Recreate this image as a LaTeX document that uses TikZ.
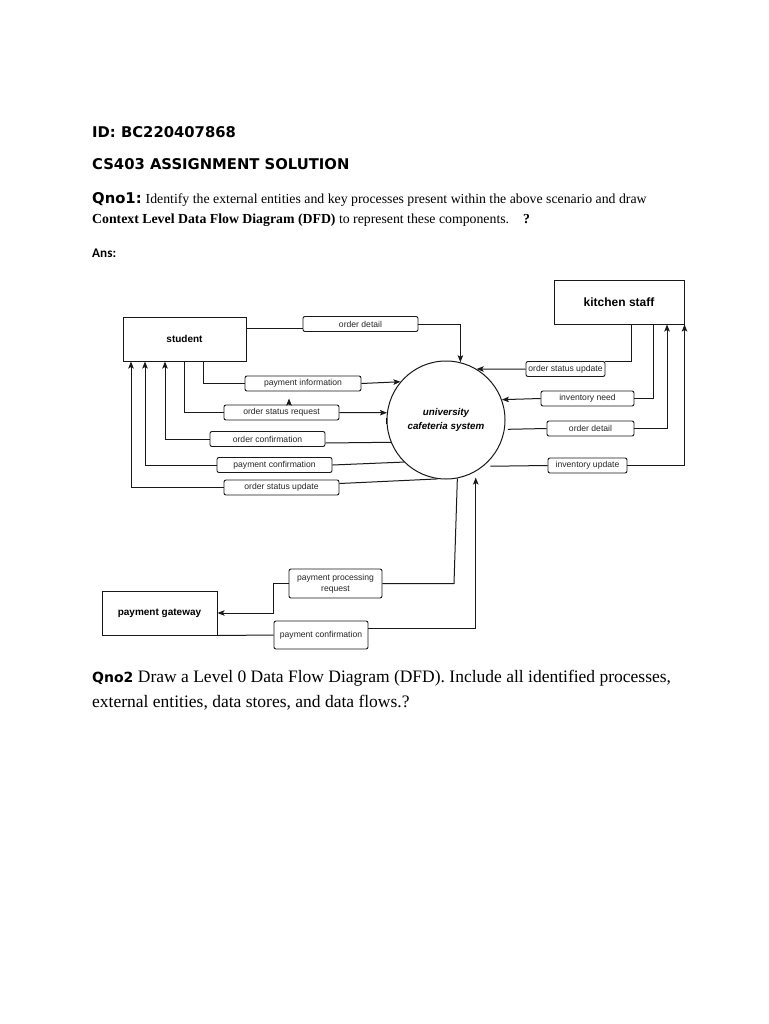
\documentclass[tikz,border=0pt]{standalone}
\usepackage{fontspec}
\setmainfont{Liberation Serif}
\setsansfont{Liberation Sans}
\newfontfamily\headfont{DejaVu Sans}
\newfontfamily\ansfont{Carlito}
\usetikzlibrary{arrows.meta}

\begin{document}
\begin{tikzpicture}[x=1pt,y=-1pt,
        wire/.style={draw=black!90,line width=1pt},
        flow/.style={wire,-{Stealth[length=7pt,width=5.5pt,inset=1.5pt]}},
        entity/.style={draw=black!90,line width=1pt,inner sep=0pt,minimum height=44pt,font=\sffamily\bfseries\fontsize{10}{12}\selectfont},
        process/.style={circle,draw=black!90,line width=1pt,minimum size=118pt,inner sep=0pt,align=center,font=\sffamily\bfseries\itshape\fontsize{9.8}{14}\selectfont},
        flowbox/.style={draw=black!90,line width=0.9pt,rounded corners=2pt,fill=white,inner sep=0pt,minimum width=115pt,minimum height=15pt,align=center,text=black!85,font=\sffamily\fontsize{8.6}{11}\selectfont},
        textline/.style={anchor=base west,inner sep=0pt}]
            \fill[white] (0,0) rectangle (768,1024);
            \useasboundingbox (0,0) rectangle (768,1024);

            \node[textline,font=\headfont\bfseries\fontsize{14.8}{18}\selectfont] (idline) at (92,138) {ID: BC220407868};
            \node[textline,font=\headfont\bfseries\fontsize{14.8}{18}\selectfont] (title) at (92,170) {CS403 ASSIGNMENT SOLUTION};
            \node[textline] (qone) at (92,204) {{\headfont\bfseries\fontsize{14.8}{18}\selectfont Qno1:}\hspace{4pt}{\fontsize{13.8}{16}\selectfont Identify the external entities and key processes present within the above scenario and draw}};
            \node[textline,font=\fontsize{13.8}{16}\selectfont] (qonemore) at (92,224) {\textbf{Context Level Data Flow Diagram (DFD)} to represent these components.\hspace{14pt}\textbf{?}};
            \node[textline,font=\ansfont\bfseries\fontsize{13.2}{15}\selectfont] (ans) at (92,257) {Ans:};

            \node[entity,minimum width=123pt] (student) at (184.5,339) {student};
            \node[entity,minimum width=130pt,font=\sffamily\bfseries\fontsize{12}{14}\selectfont] (kitchen) at (619,302) {kitchen staff};
            \node[entity,minimum width=115pt] (gateway) at (159.5,613) {payment gateway};
            \node[process] (sys) at (446,420) {university\\cafeteria system};

            \node[flowbox] (lblOrderDetail) at (360.5,324) {order detail};
            \node[flowbox,minimum width=116pt] (lblPayInfo) at (303,383.5) {payment information};
            \node[flowbox] (lblStatusReq) at (281.5,412.5) {order status request};
            \node[flowbox] (lblOrderConf) at (267.5,439) {order confirmation};
            \node[flowbox] (lblPayConf) at (274.5,465) {payment confirmation};
            \node[flowbox] (lblStatusUpd) at (281.5,487.5) {order status update};

            \node[flowbox,minimum width=79pt] (lblKStatusUpd) at (565.5,369) {order status update};
            \node[flowbox,minimum width=93pt] (lblInvNeed) at (587.5,398.5) {inventory need};
            \node[flowbox,minimum width=87pt] (lblKOrderDetail) at (590.5,428.5) {order detail};
            \node[flowbox,minimum width=79pt] (lblInvUpd) at (587.5,465.5) {inventory update};

            \node[flowbox,minimum width=93pt,minimum height=29pt] (lblProcReq) at (335.5,583.5) {payment processing\\request};
            \node[flowbox,minimum width=94pt,minimum height=28pt] (lblGwConf) at (321,635) {payment confirmation};
            \coordinate (procBend) at (454,583.5);

            \draw [wire] ([yshift=11pt]student.east) -- ([yshift=-4pt]lblOrderDetail.west);
            \draw [flow] (lblOrderDetail.east) -| (sys.76);
            \draw [wire] ([xshift=18.5pt]student.south) |- (lblPayInfo.west);
            \draw [flow] (lblPayInfo.east) -- (sys.140);
            \draw [wire] (student.south) |- (lblStatusReq.west);
            \draw [flow] (lblStatusReq.east) -- (sys.173);
            \draw [flow] ([xshift=7.5pt]lblStatusReq.north) -- ++(0,-6);
            \draw [line width=1.3pt] ([yshift=2pt]sys.west) -- ([yshift=-4pt]sys.west);
            \draw [wire] (sys.202) -- ([yshift=-4pt]lblOrderConf.east);
            \draw [flow] (lblOrderConf.west) -| ([xshift=-19.5pt]student.south);
            \draw [wire] (sys.225) -- (lblPayConf.east);
            \draw [flow] (lblPayConf.west) -| ([xshift=-39.5pt]student.south);
            \draw [wire] (sys.262) -- ([yshift=4pt]lblStatusUpd.east);
            \draw [flow] (lblStatusUpd.west) -| ([xshift=-53.5pt]student.south);

            \draw [wire] ([xshift=12pt]kitchen.south) |- (lblKStatusUpd.north east);
            \draw [flow] (lblKStatusUpd.west) -- (sys.59);
            \draw [wire] ([xshift=34pt]kitchen.south) |- (lblInvNeed.east);
            \draw [flow] (lblInvNeed.west) -- (sys.20);
            \draw [wire] ([xshift=3pt]sys.351) -- (lblKOrderDetail.west);
            \draw [flow] (lblKOrderDetail.east) -| ([xshift=48pt]kitchen.south);
            \draw [wire] ([xshift=7pt]sys.-51) -- (lblInvUpd.west);
            \draw [flow] (lblInvUpd.east) -| (kitchen.south east);

            \draw [wire] (sys.281) -- (procBend) -- (lblProcReq.east);
            \draw [flow] (lblProcReq.west) -- ++(-15,0) |- (gateway.east);
            \draw [wire] (gateway.south east) -- (lblGwConf.west);
            \draw [flow] ([yshift=7pt]lblGwConf.east) -| ([yshift=-6pt]sys.-60);

            \node[textline] (qtwo) at (92,682) {{\headfont\bfseries\fontsize{14}{18}\selectfont Qno2}\hspace{4.5pt}{\fontsize{17.5}{20}\selectfont Draw a Level 0 Data Flow Diagram (DFD). Include all identified processes,}};
            \node[textline,font=\fontsize{17.5}{20}\selectfont] (qtwomore) at (92,707) {external entities, data stores, and data flows.?};
        \end{tikzpicture}
\end{document}
